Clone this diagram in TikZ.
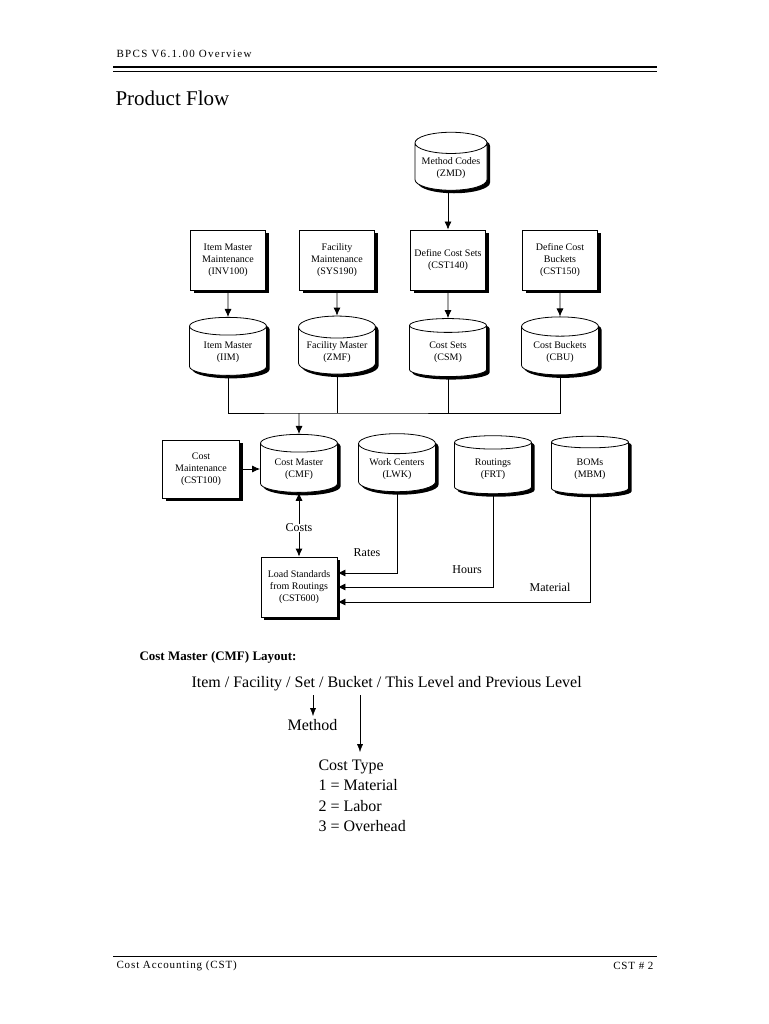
\documentclass[tikz,border=0pt]{standalone}
\usepackage{fontspec}
\setmainfont{Liberation Serif}
\usetikzlibrary{shapes.geometric,shadows,arrows.meta}

\tikzset{
  prog/.style={draw, thick, fill=white, minimum width=75pt, minimum height=60pt,
    align=center, font=\fontsize{10}{12}\selectfont, inner sep=1pt,
    drop shadow={shadow xshift=3pt, shadow yshift=-3pt, fill=black, opacity=1}},
  file/.style={draw, thick, fill=white, cylinder, shape border rotate=90, aspect=0.35,
    minimum width=77pt, minimum height=58pt, align=center,
    font=\fontsize{10}{12}\selectfont, inner sep=1pt,
    drop shadow={shadow xshift=3pt, shadow yshift=-3pt, fill=black, opacity=1}},
  flow/.style={thick, -{Latex[length=8pt,width=7pt]}},
  lbl/.style={font=\fontsize{12}{14}\selectfont},
  big/.style={font=\fontsize{16}{19}\selectfont, anchor=west}
}

\begin{document}
\begin{tikzpicture}[x=1pt, y=-1pt]
\useasboundingbox (0,0) rectangle (768,1024);

% page header
\node[anchor=west, font=\fontsize{11}{13}\addfontfeature{LetterSpace=12}\selectfont] (hdr) at (113,54) {BPCS V6.1.00 Overview};
\draw[line width=2pt] (113,67) -- (657,67);
\draw[line width=0.6pt] (113,71) -- (657,71);
\node[anchor=west, font=\fontsize{21}{24}\selectfont] (title) at (112,98) {Product Flow};

% top files and programs
\node[file, minimum width=72pt] (zmd) at (451,168) {Method Codes\\(ZMD)};
\node[prog] (inv) at (228,260) {Item Master\\Maintenance\\(INV100)};
\node[prog] (sys) at (337,260) {Facility\\Maintenance\\(SYS190)};
\node[prog] (cst140) at (448,260) {Define Cost Sets\\(CST140)};
\node[prog] (cst150) at (560,260) {Define Cost\\Buckets\\(CST150)};
\node[file] (iim) at (228,352) {Item Master\\(IIM)};
\node[file] (zmf) at (337,352) {Facility Master\\(ZMF)};
\node[file] (csm) at (448,352) {Cost Sets\\(CSM)};
\node[file] (cbu) at (560,352) {Cost Buckets\\(CBU)};

\draw[flow] (zmd.south -| cst140) -- (cst140);
\draw[flow] (inv) -- (iim);
\draw[flow] (sys) -- (zmf);
\draw[flow] (cst140) -- (csm);
\draw[flow] (cst150) -- (cbu);

% middle row
\node[prog, minimum width=77pt, minimum height=58pt] (cst100) at (201,469) {Cost\\Maintenance\\(CST100)};
\node[file] (cmf) at (299,469) {Cost Master\\(CMF)};
\node[file] (lwk) at (397,469) {Work Centers\\(LWK)};
\node[file] (frt) at (493,469) {Routings\\(FRT)};
\node[file] (mbm) at (590,469) {BOMs\\(MBM)};
\node[prog, minimum width=76pt] (cst600) at (299,587) {Load Standards\\from Routings\\(CST600)};

\coordinate (bus) at (299,413);
\draw[thick] (iim.south) |- (bus) -| (cbu.south);
\draw[thick] (zmf.south) -- (zmf.south |- bus);
\draw[thick] (csm.south) -- (csm.south |- bus);
\draw[flow] (bus) -- (cmf.north);
\draw[flow] (cst100) -- (cmf);
\draw[thick, {Latex[length=8pt,width=7pt]}-{Latex[length=8pt,width=7pt]}] (cmf.south) -- (cst600.north);
\draw[flow] (lwk.south) |- ([yshift=14pt]cst600.east);
\draw[flow] (frt.south) |- (cst600.east);
\draw[flow] (mbm.south) |- ([yshift=-15pt]cst600.east);

\node[lbl, fill=white, inner sep=0pt] (costs) at (299,528) {Costs};
\node[lbl] (rates) at (367,553) {Rates};
\node[lbl] (hours) at (467,570) {Hours};
\node[lbl] (material) at (550,587) {Material};

% layout of the cost master
\node[anchor=west, font=\bfseries\fontsize{13}{15}\selectfont] (layout) at (136,657) {Cost Master (CMF) Layout:};
\node[big] (keys) at (188,684) {Item / Facility / Set / Bucket / This Level and Previous Level};
\node[big] (method) at (284,725) {Method};
\node[big, align=left, font=\fontsize{16}{20.5}\selectfont, anchor=north west] (ctype) at (315,756) {Cost Type\\1 = Material\\2 = Labor\\3 = Overhead};
\draw[-{Latex[length=8pt,width=6pt]}] (313,695) -- (313,716);
\draw[-{Latex[length=8pt,width=6pt]}] (360,695) -- (360,752);

% page footer
\draw[line width=0.6pt] (113,956) -- (657,956);
\node[anchor=west, font=\fontsize{11}{13}\addfontfeature{LetterSpace=8}\selectfont] (ftl) at (113,966) {Cost Accounting (CST)};
\node[anchor=east, font=\fontsize{11}{13}\addfontfeature{LetterSpace=8}\selectfont] (ftr) at (657,966) {CST \# 2};
\end{tikzpicture}
\end{document}
